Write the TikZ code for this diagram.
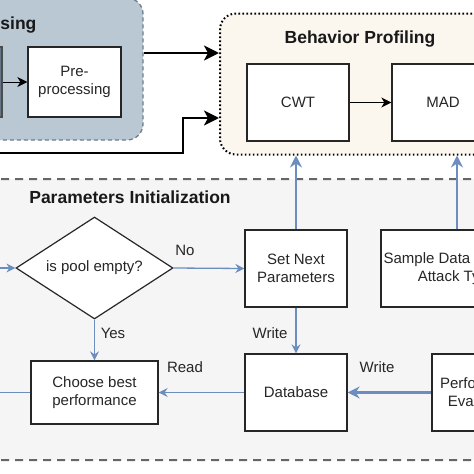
\documentclass[tikz,border=0pt]{standalone}
\usepackage{fontspec}
\setmainfont{Liberation Sans}
\usetikzlibrary{arrows.meta,shapes.geometric}

\definecolor{prepfill}{HTML}{BAC8D3}
\definecolor{prepline}{HTML}{6D7E8E}
\definecolor{proffill}{HTML}{FBF6EE}
\definecolor{parfill}{HTML}{F5F5F5}
\definecolor{parline}{HTML}{666666}
\definecolor{flowblue}{HTML}{6C8EBF}
\definecolor{rawfill}{HTML}{647687}

\begin{document}
\begin{tikzpicture}[x=1pt, y=-1pt, font=\fontsize{15}{18}\selectfont,
  box/.style={draw=black!85, line width=1.3pt, fill=white, text=black!85,
    align=center, inner sep=1pt},
  title/.style={font=\fontsize{17.5}{20}\selectfont\bfseries, text=black!90},
  lbl/.style={text=black!85, inner sep=0pt},
  blkarrow/.style={draw=black, line width=2.4pt, -{Stealth[length=15pt, width=15pt, inset=4pt]}},
  thinarrow/.style={draw=black, line width=1pt, -{Stealth[length=10pt, width=10pt, inset=3pt]}},
  bluearrow/.style={draw=flowblue, line width=1.3pt, -{Stealth[length=9pt, width=9pt, inset=3pt]}},
  boldblue/.style={draw=flowblue, line width=2.2pt, -{Stealth[length=12pt, width=12pt, inset=4pt]}}]
  \useasboundingbox (0,0) rectangle (474,474);
  \clip (0,0) rectangle (474,474);

  % groups: processing | behaviour profiling | parameter search
  \node[draw=prepline, fill=prepfill, line width=1.3pt, dash pattern=on 4pt off 3pt,
    rounded corners=16pt, minimum width=203pt, minimum height=142pt] (prepgrp) at (41.5,69) {};
  \node[draw=black, fill=proffill, line width=2pt, dash pattern=on 1.6pt off 2.4pt,
    rounded corners=16pt, minimum width=340pt, minimum height=141pt] (profgrp) at (390,84) {};
  \node[draw=parline, fill=parfill, line width=2pt, dash pattern=on 8pt off 6pt,
    rounded corners=8pt, minimum width=540pt, minimum height=281pt] (pargrp) at (237,319.5) {};

  \node[title, anchor=east] (preptitle) at (40,25) {Data Processing};
  \node[title] (proftitle) at (360,39) {Behavior Profiling};
  \node[title] (partitle) at (130,197) {Parameters Initialization};

  % processing
  \node[box, fill=rawfill, draw=black!70, minimum width=62pt, minimum height=70pt] (raw) at (-29,82) {};
  \node[box, minimum width=93pt, minimum height=70pt] (prepro) at (74.5,82) {Pre-\\processing};

  % profiling
  \node[box, minimum width=102pt, minimum height=77pt] (cwt) at (298,102.5) {CWT};
  \node[box, minimum width=102pt, minimum height=77pt] (mad) at (443,102.5) {MAD};

  % parameter search
  \node[box, shape=diamond, aspect=1.54, inner sep=0pt, minimum width=157pt,
    minimum height=102pt, line width=1.2pt] (pool) at (94.5,268) {is pool empty?};
  \node[box, minimum width=102pt, minimum height=77pt] (setnext) at (296,268.5) {Set Next\\Parameters};
  \node[box, minimum width=152pt, minimum height=77pt] (sample) at (457,268.5) {Sample Data for Each\\Attack Type};
  \node[box, minimum width=127pt, minimum height=63pt] (choose) at (94.5,392.5) {Choose best\\performance};
  \node[box, minimum width=102pt, minimum height=77pt] (database) at (296,392.5) {Database};
  \node[box, minimum width=102pt, minimum height=77pt] (perf) at (483,392.5) {Performance\\Evaluation};

  \coordinate (feed) at (0,153);
  \coordinate (poolin) at (0,268);
  \coordinate (chooseout) at (0,392.5);

  % black connectors
  \draw[thinarrow] (raw.east) -- (prepro.west);
  \draw[blkarrow] (prepgrp.east |- 0,53) -- (profgrp.west |- 0,53);
  \draw[blkarrow] (feed) -| (183,118) -- (profgrp.west |- 0,118);
  \draw[thinarrow] (cwt.east) -- (mad.west);

  % blue connectors
  \draw[boldblue] (setnext.north) -- (setnext.north |- profgrp.south);
  \draw[boldblue] (sample.north) -- (sample.north |- profgrp.south);
  \draw[bluearrow] (poolin) -- (pool.west);
  \draw[bluearrow] (pool.east) -- (setnext.west);
  \draw[bluearrow] (pool.south) -- (choose.north);
  \draw[bluearrow] (setnext.south) -- (database.north);
  \draw[boldblue] (perf.west) -- (database.east);
  \draw[bluearrow] (database.west) -- (choose.east);
  \draw[draw=flowblue, line width=1.3pt] (choose.west) -- (chooseout);

  % labels
  \node[lbl] (nolbl) at (185,250) {No};
  \node[lbl] (yeslbl) at (113,333) {Yes};
  \node[lbl] (writeup) at (270,333) {Write};
  \node[lbl] (readlbl) at (185,367) {Read};
  \node[lbl] (writelow) at (377,367) {Write};
\end{tikzpicture}
\end{document}
